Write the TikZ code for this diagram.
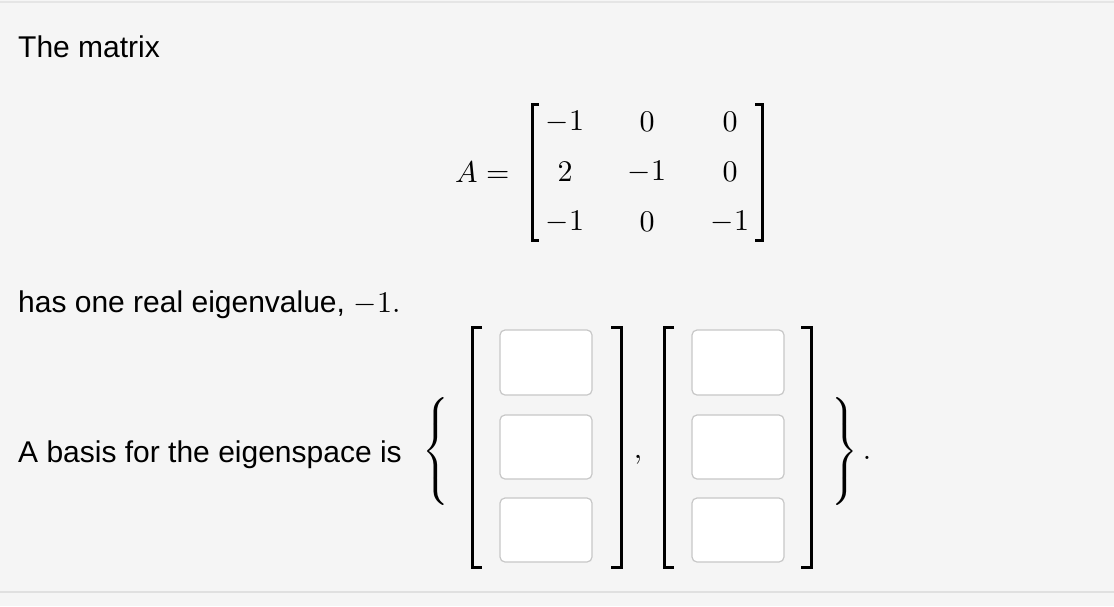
\documentclass[tikz,border=0pt]{standalone}
\usepackage{fontspec}
\newfontfamily\sans{Liberation Sans}
\begin{document}
\begin{tikzpicture}[x=1pt,y=-1pt,
  txt/.style={anchor=base west,inner sep=0,font=\sans\fontsize{30}{34}\selectfont},
  mth/.style={inner sep=0,scale=3.0},
  brk/.style={line width=3pt},
  inbox/.style={draw=black!22,fill=white,rounded corners=5pt,line width=1.2pt}]
\useasboundingbox (0,0) rectangle (1114,606);
\fill[black!4] (0,0) rectangle (1114,606);
\draw[black!10,line width=1.5pt] (0,2) -- (1114,2);
\draw[black!12,line width=1.5pt] (0,592) -- (1114,592);
\node[txt] (t1) at (18,57) {The matrix};
\node[txt] (t2) at (18,312) {has one real eigenvalue,};
\node[mth,anchor=base west] (ev) at ([xshift=8pt]t2.base east) {$-1.$};
\node[txt] (t3) at (18,462) {A basis for the eigenspace is};
% matrix A
\node[mth,anchor=base east] (A) at (510,182) {$A=$};
\draw[brk] (539,104) -- (532,104) -- (532,240) -- (539,240);
\draw[brk] (755,104) -- (762,104) -- (762,240) -- (755,240);
\node[mth] (m11) at (565,122) {$-1$};
\node[mth] (m12) at (647,122) {$0$};
\node[mth] (m13) at (730,122) {$0$};
\node[mth] (m21) at (565,172) {$2$};
\node[mth] (m22) at (647,172) {$-1$};
\node[mth] (m23) at (730,172) {$0$};
\node[mth] (m31) at (565,222) {$-1$};
\node[mth] (m32) at (647,222) {$0$};
\node[mth] (m33) at (730,222) {$-1$};
% basis
\node[mth] (lb) at (438,454) {$\left\{\vphantom{\rule[-17pt]{0pt}{34pt}}\right.$};
\draw[brk] (482,327) -- (472,327) -- (472,567) -- (482,567);
\draw[brk] (611,327) -- (621,327) -- (621,567) -- (611,567);
\draw[brk] (674,327) -- (664,327) -- (664,567) -- (674,567);
\draw[brk] (801,327) -- (811,327) -- (811,567) -- (801,567);
\foreach \i/\x in {1/500,2/692}{
  \draw[inbox] (\x,330) rectangle ++(92,65);
  \draw[inbox] (\x,415) rectangle ++(92,64);
  \draw[inbox] (\x,498) rectangle ++(92,64);
}
\node[mth,anchor=base] (cm) at (638,458) {$,$};
\node[mth,anchor=west] (rb) at (827,454) {$\left.\vphantom{\rule[-17pt]{0pt}{34pt}}\right\}.$};
\end{tikzpicture}
\end{document}
